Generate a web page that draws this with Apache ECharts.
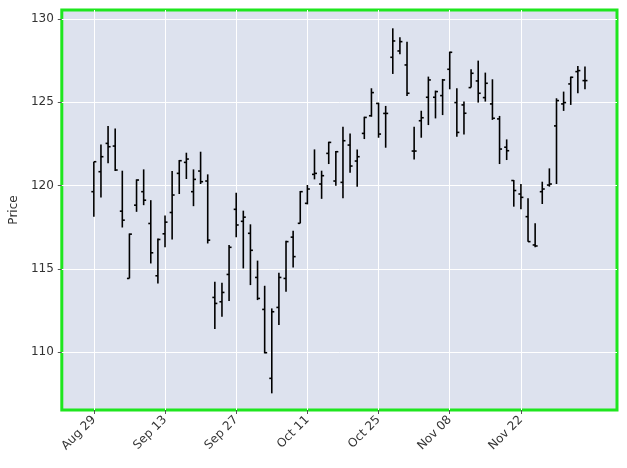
<!DOCTYPE html>
<html>
<head>
<meta charset="utf-8">
<script src="https://cdn.jsdelivr.net/npm/echarts@6/dist/echarts.min.js"></script>
<style>html,body{margin:0;padding:0;background:#fff}#main{width:627px;height:468px}</style>
</head>
<body>
<div id="main"></div>
<script>
// trading days, Aug 29 2022 .. Dec 6 2022
var dates = ['08-29','08-30','08-31','09-01','09-02','09-06','09-07','09-08','09-09','09-12',
  '09-13','09-14','09-15','09-16','09-19','09-20','09-21','09-22','09-23','09-26',
  '09-27','09-28','09-29','09-30','10-03','10-04','10-05','10-06','10-07','10-10',
  '10-11','10-12','10-13','10-14','10-17','10-18','10-19','10-20','10-21','10-24',
  '10-25','10-26','10-27','10-28','10-31','11-01','11-02','11-03','11-04','11-07',
  '11-08','11-09','11-10','11-11','11-14','11-15','11-16','11-17','11-18','11-21',
  '11-22','11-23','11-25','11-28','11-29','11-30','12-01','12-02','12-05','12-06'];
var tickLabels = {0:'Aug 29',10:'Sep 13',20:'Sep 27',30:'Oct 11',40:'Oct 25',50:'Nov 08',60:'Nov 22'};
var priceTicks = [110, 115, 120, 125, 130];

var opens  = [119.63,120.83,122.53,122.37,118.46,114.42,118.82,119.63,117.72,114.58,
  117.1,118.38,120.73,121.39,119.63,120.87,120.27,113.28,113.02,114.66,
  118.57,117.85,117.13,114.48,112.56,108.42,112.68,114.42,116.9,117.73,
  118.93,120.67,120.09,121.93,120.27,120.19,122.43,121.47,123.13,124.19,
  124.93,124.33,127.70,128.08,127.24,122.07,123.89,125.30,125.30,125.40,
  126.98,124.98,124.84,125.88,126.28,125.28,124.90,124.0,122.3,120.3,
  119.49,118.13,116.43,119.63,120.03,123.58,124.90,126.1,126.84,126.30];
var highs  = [121.43,122.47,123.57,123.43,120.89,117.12,120.37,120.97,119.12,116.82,
  118.2,120.87,121.53,121.97,120.97,122.03,120.67,114.22,114.16,116.43,
  119.57,118.49,117.67,115.49,113.98,112.62,114.76,116.69,117.29,119.67,
  120.03,122.17,120.89,122.63,122.07,123.53,123.13,122.17,124.13,125.84,
  124.97,124.78,129.44,128.90,128.64,123.53,124.49,126.54,125.70,126.40,
  128.04,125.84,125.04,126.98,127.50,126.78,126.38,124.18,122.77,120.33,
  120.09,119.23,117.73,120.23,121.03,125.24,125.64,126.54,127.18,127.14];
var lows   = [118.12,119.28,121.33,120.87,117.48,114.42,118.42,118.82,115.32,114.12,
  116.3,116.76,119.49,120.39,118.76,120.09,116.52,111.38,112.12,113.06,
  116.89,115.02,114.02,113.12,109.92,107.52,111.62,113.62,115.08,117.73,
  118.87,120.37,119.2,121.29,119.99,119.23,120.77,119.93,122.79,124.13,
  122.87,122.27,126.70,127.88,125.38,121.57,122.87,123.63,124.03,124.23,
  125.78,122.93,123.07,125.88,124.98,125.04,123.94,121.29,121.53,118.73,
  118.57,116.63,116.29,118.89,119.93,120.09,124.48,124.84,125.54,125.78];
var closes = [121.43,121.73,122.33,120.93,117.92,117.08,120.33,119.12,115.96,116.76,
  117.8,119.43,121.49,121.59,120.37,120.23,116.72,112.92,113.58,116.29,
  117.63,118.1,116.11,113.22,109.96,112.42,114.48,116.63,115.73,119.63,
  119.79,120.73,120.59,122.59,122.03,122.69,121.17,121.73,124.09,125.58,
  123.09,124.33,128.68,128.64,125.54,122.07,124.07,126.34,125.64,126.34,
  128.0,123.19,124.34,126.74,125.54,126.14,124.04,122.19,122.09,119.7,
  119.29,116.63,116.37,119.79,120.09,125.10,124.98,126.5,126.90,126.30];

var PAD = 4;
var cats = [];
for (var i = 0; i < PAD; i++) cats.push('pre' + i);
dates.forEach(function (d) { cats.push(d); });
for (var i = 0; i < PAD; i++) cats.push('post' + i);

var ohlc = dates.map(function (d, i) { return [d, opens[i], highs[i], lows[i], closes[i]]; });

function showTick(idx) { return tickLabels[idx - PAD] !== undefined; }

var gridLines = Object.keys(tickLabels).map(function (k) { return {xAxis: dates[k]}; })
  .concat(priceTicks.map(function (v) { return {yAxis: v}; }));

var myChart = echarts.init(document.getElementById('main'));
myChart.setOption({
  animation: false,
  grid: {left: 58, right: 10, top: 10, bottom: 58, show: true,
    backgroundColor: '#dde2ee', borderColor: '#1ee61e', borderWidth: 3},
  xAxis: {
    type: 'category', data: cats, boundaryGap: true,
    axisLine: {show: false},
    axisTick: {show: true, alignWithLabel: true, length: 4, lineStyle: {color: '#555'},
      interval: function (idx) { return showTick(idx); }},
    axisLabel: {rotate: 45, color: '#333', fontSize: 12, fontFamily: 'DejaVu Sans',
      interval: function (idx) { return showTick(idx); },
      formatter: function (v, idx) { return tickLabels[idx - PAD] || ''; }},
    splitLine: {show: false}
  },
  yAxis: {
    type: 'value', min: 106.52, max: 130.54,
    name: 'Price', nameLocation: 'middle', nameGap: 40, nameRotate: 90,
    nameTextStyle: {color: '#333', fontSize: 12, fontFamily: 'DejaVu Sans'},
    axisLine: {show: false},
    axisTick: {show: true, length: 4, lineStyle: {color: '#555'}, customValues: priceTicks},
    axisLabel: {color: '#333', fontSize: 12, fontFamily: 'DejaVu Sans', customValues: priceTicks},
    splitLine: {show: false}
  },
  series: [{
    type: 'line', data: [], z: 1,
    markLine: {
      silent: true, symbol: 'none', label: {show: false}, animation: false,
      lineStyle: {color: '#ffffff', width: 1, type: 'solid'},
      data: gridLines
    }
  }, {
    type: 'custom', z: 5,
    data: ohlc,
    encode: {x: 0, y: [1, 2, 3, 4]},
    renderItem: function (params, api) {
      var x = api.value(0);
      var o = api.coord([x, api.value(1)]);
      var h = api.coord([x, api.value(2)]);
      var l = api.coord([x, api.value(3)]);
      var c = api.coord([x, api.value(4)]);
      var w = 2.5;
      var st = {stroke: '#000', lineWidth: 1.6};
      return {type: 'group', children: [
        {type: 'line', shape: {x1: h[0], y1: h[1], x2: l[0], y2: l[1]}, style: st},
        {type: 'line', shape: {x1: o[0] - w, y1: o[1], x2: o[0], y2: o[1]}, style: st},
        {type: 'line', shape: {x1: c[0], y1: c[1], x2: c[0] + w, y2: c[1]}, style: st}
      ]};
    }
  }]
});
</script>
</body>
</html>
